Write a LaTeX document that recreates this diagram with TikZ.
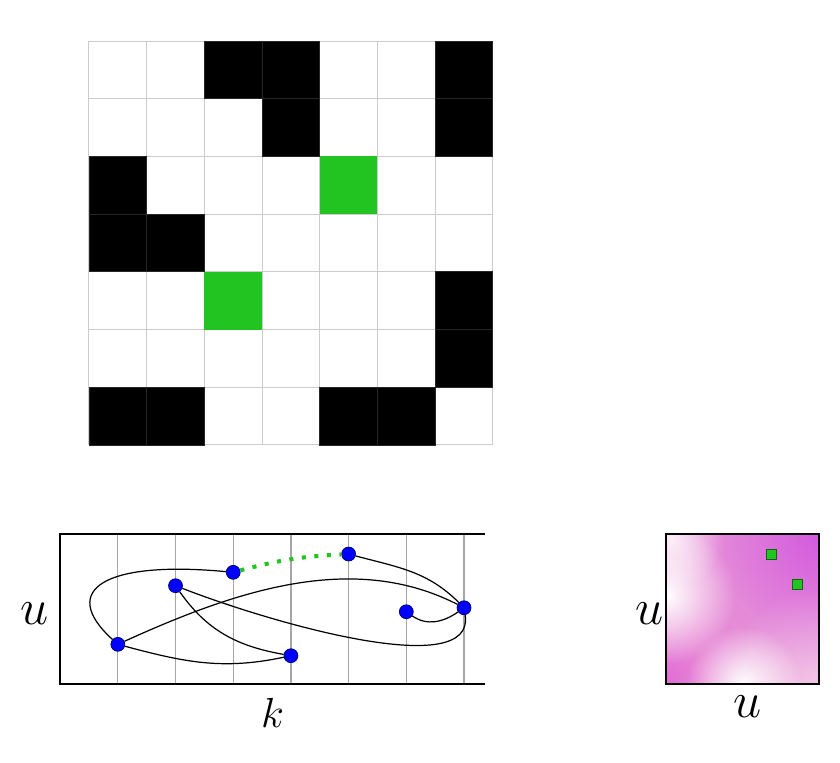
\documentclass[tikz,border=0pt]{standalone}
\usepackage[rgb,svgnames]{xcolor}
\usepackage{tikz}
\usepackage{amssymb,amsmath}
\usetikzlibrary{calc,fadings}

\definecolor{GoalGreen}{RGB}{34,196,34}
\definecolor{HeatBase}{RGB}{239,170,213}
\definecolor{HeatHi}{RGB}{212,90,222}
\definecolor{HeatLo}{RGB}{226,110,214}
\tikzfading[name=blob fade, inner color=transparent!0, outer color=transparent!100]

\begin{document}
\begin{tikzpicture}[
W1/.style={rectangle, fill=black, draw=black!85, line width=0.4pt, minimum size=1cm, inner sep=0pt},
G1/.style={rectangle, fill=GoalGreen, minimum size=1cm, inner sep=0pt},
V1/.style={circle, fill=blue, draw=blue!50!black, line width=0.4pt, minimum size=2.4mm, inner sep=0pt},
E1/.style={black, semithick},
M1/.style={rectangle, fill=GoalGreen, draw=GoalGreen!50!black, line width=0.3pt, minimum size=1.7mm, inner sep=0pt},
]
	\useasboundingbox (-1.542,0.711) rectangle (13.016,-12.496);

	% maze
	\draw[gray!40, line width=0.5pt] (0,-7) grid (7,0);
	\node[W1] (W02) at (2.5,-0.5) {};
	\node[W1] (W03) at (3.5,-0.5) {};
	\node[W1] (W06) at (6.5,-0.5) {};
	\node[W1] (W13) at (3.5,-1.5) {};
	\node[W1] (W16) at (6.5,-1.5) {};
	\node[W1] (W20) at (0.5,-2.5) {};
	\node[G1] (G24) at (4.5,-2.5) {};
	\node[W1] (W30) at (0.5,-3.5) {};
	\node[W1] (W31) at (1.5,-3.5) {};
	\node[G1] (G42) at (2.5,-4.5) {};
	\node[W1] (W46) at (6.5,-4.5) {};
	\node[W1] (W56) at (6.5,-5.5) {};
	\node[W1] (W60) at (0.5,-6.5) {};
	\node[W1] (W61) at (1.5,-6.5) {};
	\node[W1] (W64) at (4.5,-6.5) {};
	\node[W1] (W65) at (5.5,-6.5) {};

	% graph over k
	\foreach \x in {0.5,1.5,...,6.5}
		\draw[gray!70, line width=0.6pt] (\x,-8.55) -- (\x,-11.15);
	\draw[line width=1pt] (6.87,-8.55) -- (-0.5,-8.55) -- (-0.5,-11.15) -- (6.87,-11.15);

	\node[V1] (K1) at (0.5,-10.456) {};
	\node[V1] (K2) at (1.5,-9.44) {};
	\node[V1] (K3) at (2.5,-9.208) {};
	\node[V1] (K4) at (3.5,-10.653) {};
	\node[V1] (K5) at (4.5,-8.891) {};
	\node[V1] (K6) at (5.5,-9.891) {};
	\node[V1] (K7) at (6.5,-9.822) {};

	\draw[E1] (K3) .. controls (0.3,-9.0) and (-0.55,-9.5) .. (K1);
	\draw[E1] (K1) .. controls (2.6,-9.5) and (4.6,-8.85) .. (K7);
	\draw[E1] (K2) .. controls (3.2,-10.1) and (6.7,-11.1) .. (K7);
	\draw[E1] (K2) to[out=-55, in=170] (K4);
	\draw[E1] (K1) to[out=-15, in=-168] (K4);
	\draw[E1] (K5) to[out=-15, in=135] (K7);
	\draw[E1] (K6) to[out=-35, in=-145] (K7);
	\draw[GoalGreen, line width=2pt, dash pattern=on 2pt off 4.2pt] (K3) to[bend left=6] (K5);

	\node (UL) at (-0.945,-9.93) {\Huge $u$};
	\node (KB) at (3.18,-11.64) {\huge $k$};

	% u x u map
	\begin{scope}
		\clip (10,-8.55) rectangle (12.65,-11.15);
		\fill[HeatBase] (10,-8.55) rectangle (12.65,-11.15);
		\fill[HeatHi, path fading=blob fade] (12.65,-8.55) circle (3.0);
		\fill[HeatLo, path fading=blob fade] (10.0,-11.05) circle (1.8);
		\fill[white, path fading=blob fade] (10.0,-9.6) circle (1.2);
		\fill[white, opacity=0.8, path fading=blob fade] (10.1,-8.6) circle (0.9);
		\fill[white, path fading=blob fade] (11.35,-11.15) circle (1.0);
		\fill[white, opacity=0.4, path fading=blob fade] (12.6,-11.1) circle (1.6);
	\end{scope}
	\draw[line width=1pt] (10,-8.55) rectangle (12.65,-11.15);
	\node[M1] (T1) at (11.82,-8.90) {};
	\node[M1] (T2) at (12.27,-9.41) {};

	\node (UR) at (9.71,-9.93) {\Huge $u$};
	\node (UB) at (11.41,-11.54) {\Huge $u$};
\end{tikzpicture}
\end{document}
